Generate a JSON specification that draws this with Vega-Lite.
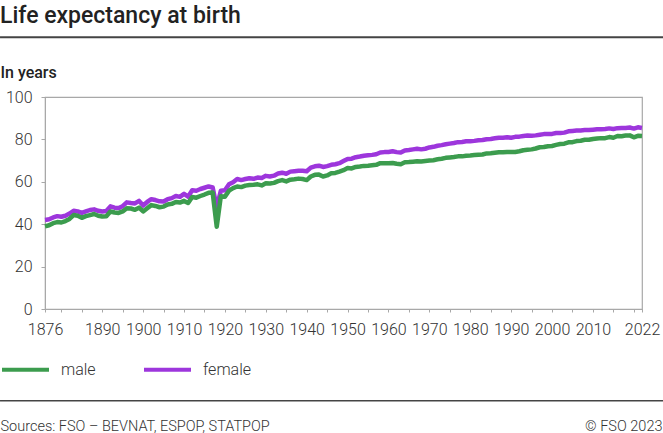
{
  "$schema": "https://vega.github.io/schema/vega-lite/v6.json",
  "width": 597,
  "height": 212,
  "autosize": {"type": "none"},
  "padding": {"left": 45, "top": 97, "right": 21, "bottom": 124},
  "background": "white",
  "config": {
    "font": "Roboto",
    "view": {"stroke": "#a8a8a8", "strokeWidth": 1.2},
    "axis": {
      "labelFont": "Roboto",
      "labelFontWeight": 300,
      "labelFontSize": 16,
      "labelColor": "#333333",
      "domainColor": "#a8a8a8",
      "tickColor": "#a8a8a8",
      "gridColor": "#a8a8a8",
      "titleFont": "Roboto"
    }
  },
  "title": {
    "text": "Life expectancy at birth",
    "anchor": "start",
    "frame": "group",
    "dx": -45,
    "dy": 4,
    "fontSize": 23,
    "fontWeight": 500,
    "color": "#222222",
    "offset": 12
  },
  "data": {
    "values": [
      {"year": 1876, "male": 39.0, "female": 42.0},
      {"year": 1877, "male": 39.5, "female": 42.3},
      {"year": 1878, "male": 40.5, "female": 43.2},
      {"year": 1879, "male": 41.0, "female": 43.8},
      {"year": 1880, "male": 40.8, "female": 43.5},
      {"year": 1881, "male": 41.5, "female": 44.0},
      {"year": 1882, "male": 42.5, "female": 45.0},
      {"year": 1883, "male": 44.3, "female": 46.3},
      {"year": 1884, "male": 44.0, "female": 46.0},
      {"year": 1885, "male": 43.0, "female": 45.3},
      {"year": 1886, "male": 43.8, "female": 46.0},
      {"year": 1887, "male": 44.3, "female": 46.7},
      {"year": 1888, "male": 44.8, "female": 47.0},
      {"year": 1889, "male": 44.0, "female": 46.3},
      {"year": 1890, "male": 43.6, "female": 46.0},
      {"year": 1891, "male": 43.8, "female": 46.2},
      {"year": 1892, "male": 46.0, "female": 48.4},
      {"year": 1893, "male": 45.5, "female": 47.8},
      {"year": 1894, "male": 45.3, "female": 47.6},
      {"year": 1895, "male": 46.0, "female": 48.5},
      {"year": 1896, "male": 47.5, "female": 50.3},
      {"year": 1897, "male": 47.4, "female": 50.0},
      {"year": 1898, "male": 46.8, "female": 49.8},
      {"year": 1899, "male": 47.8, "female": 51.0},
      {"year": 1900, "male": 46.0, "female": 48.8},
      {"year": 1901, "male": 47.5, "female": 50.5},
      {"year": 1902, "male": 49.0, "female": 51.8},
      {"year": 1903, "male": 48.6, "female": 51.4},
      {"year": 1904, "male": 48.0, "female": 50.8},
      {"year": 1905, "male": 48.3, "female": 50.7},
      {"year": 1906, "male": 49.3, "female": 51.8},
      {"year": 1907, "male": 49.6, "female": 52.3},
      {"year": 1908, "male": 50.5, "female": 53.3},
      {"year": 1909, "male": 50.2, "female": 52.9},
      {"year": 1910, "male": 51.0, "female": 54.3},
      {"year": 1911, "male": 50.0, "female": 53.0},
      {"year": 1912, "male": 52.8, "female": 56.0},
      {"year": 1913, "male": 52.5, "female": 55.8},
      {"year": 1914, "male": 53.3, "female": 56.6},
      {"year": 1915, "male": 54.0, "female": 57.2},
      {"year": 1916, "male": 54.8, "female": 57.8},
      {"year": 1917, "male": 55.0, "female": 57.3},
      {"year": 1918, "male": 38.8, "female": 48.0},
      {"year": 1919, "male": 53.2, "female": 55.8},
      {"year": 1920, "male": 53.0, "female": 56.0},
      {"year": 1921, "male": 55.8, "female": 58.8},
      {"year": 1922, "male": 57.0, "female": 59.8},
      {"year": 1923, "male": 57.8, "female": 61.3},
      {"year": 1924, "male": 57.5, "female": 60.8},
      {"year": 1925, "male": 58.2, "female": 61.3},
      {"year": 1926, "male": 58.5, "female": 61.7},
      {"year": 1927, "male": 58.6, "female": 61.4},
      {"year": 1928, "male": 58.8, "female": 62.0},
      {"year": 1929, "male": 58.3, "female": 61.8},
      {"year": 1930, "male": 59.3, "female": 62.8},
      {"year": 1931, "male": 59.2, "female": 62.5},
      {"year": 1932, "male": 59.5, "female": 62.9},
      {"year": 1933, "male": 60.3, "female": 63.9},
      {"year": 1934, "male": 60.8, "female": 64.3},
      {"year": 1935, "male": 60.2, "female": 63.8},
      {"year": 1936, "male": 61.0, "female": 64.8},
      {"year": 1937, "male": 61.2, "female": 65.0},
      {"year": 1938, "male": 61.5, "female": 65.2},
      {"year": 1939, "male": 61.3, "female": 65.2},
      {"year": 1940, "male": 60.8, "female": 65.0},
      {"year": 1941, "male": 62.5, "female": 66.7},
      {"year": 1942, "male": 63.3, "female": 67.3},
      {"year": 1943, "male": 63.4, "female": 67.6},
      {"year": 1944, "male": 62.5, "female": 67.0},
      {"year": 1945, "male": 63.0, "female": 67.4},
      {"year": 1946, "male": 64.0, "female": 68.0},
      {"year": 1947, "male": 64.2, "female": 68.3},
      {"year": 1948, "male": 64.8, "female": 68.8},
      {"year": 1949, "male": 65.5, "female": 69.8},
      {"year": 1950, "male": 66.5, "female": 70.8},
      {"year": 1951, "male": 66.3, "female": 70.9},
      {"year": 1952, "male": 67.0, "female": 71.6},
      {"year": 1953, "male": 67.2, "female": 71.9},
      {"year": 1954, "male": 67.5, "female": 72.3},
      {"year": 1955, "male": 67.6, "female": 72.5},
      {"year": 1956, "male": 67.8, "female": 72.7},
      {"year": 1957, "male": 68.0, "female": 73.0},
      {"year": 1958, "male": 68.8, "female": 73.8},
      {"year": 1959, "male": 68.8, "female": 74.0},
      {"year": 1960, "male": 68.8, "female": 74.1},
      {"year": 1961, "male": 68.9, "female": 74.4},
      {"year": 1962, "male": 68.5, "female": 74.0},
      {"year": 1963, "male": 68.3, "female": 73.8},
      {"year": 1964, "male": 69.2, "female": 74.8},
      {"year": 1965, "male": 69.3, "female": 75.0},
      {"year": 1966, "male": 69.5, "female": 75.3},
      {"year": 1967, "male": 69.7, "female": 75.6},
      {"year": 1968, "male": 69.6, "female": 75.3},
      {"year": 1969, "male": 69.8, "female": 75.6},
      {"year": 1970, "male": 70.0, "female": 76.2},
      {"year": 1971, "male": 70.2, "female": 76.5},
      {"year": 1972, "male": 70.6, "female": 77.0},
      {"year": 1973, "male": 70.9, "female": 77.3},
      {"year": 1974, "male": 71.3, "female": 77.7},
      {"year": 1975, "male": 71.5, "female": 78.0},
      {"year": 1976, "male": 71.7, "female": 78.3},
      {"year": 1977, "male": 72.0, "female": 78.7},
      {"year": 1978, "male": 72.0, "female": 78.8},
      {"year": 1979, "male": 72.3, "female": 79.1},
      {"year": 1980, "male": 72.4, "female": 79.1},
      {"year": 1981, "male": 72.6, "female": 79.3},
      {"year": 1982, "male": 72.8, "female": 79.6},
      {"year": 1983, "male": 72.9, "female": 79.7},
      {"year": 1984, "male": 73.4, "female": 80.1},
      {"year": 1985, "male": 73.5, "female": 80.2},
      {"year": 1986, "male": 73.7, "female": 80.5},
      {"year": 1987, "male": 73.9, "female": 80.8},
      {"year": 1988, "male": 73.9, "female": 80.8},
      {"year": 1989, "male": 74.0, "female": 81.0},
      {"year": 1990, "male": 74.0, "female": 80.8},
      {"year": 1991, "male": 74.1, "female": 81.2},
      {"year": 1992, "male": 74.4, "female": 81.3},
      {"year": 1993, "male": 74.9, "female": 81.6},
      {"year": 1994, "male": 75.1, "female": 81.8},
      {"year": 1995, "male": 75.3, "female": 81.7},
      {"year": 1996, "male": 75.7, "female": 81.9},
      {"year": 1997, "male": 76.3, "female": 82.2},
      {"year": 1998, "male": 76.4, "female": 82.5},
      {"year": 1999, "male": 76.8, "female": 82.5},
      {"year": 2000, "male": 76.9, "female": 82.6},
      {"year": 2001, "male": 77.4, "female": 83.0},
      {"year": 2002, "male": 77.8, "female": 83.0},
      {"year": 2003, "male": 78.0, "female": 83.2},
      {"year": 2004, "male": 78.6, "female": 83.8},
      {"year": 2005, "male": 78.7, "female": 84.0},
      {"year": 2006, "male": 79.2, "female": 84.2},
      {"year": 2007, "male": 79.4, "female": 84.2},
      {"year": 2008, "male": 79.8, "female": 84.4},
      {"year": 2009, "male": 79.8, "female": 84.4},
      {"year": 2010, "male": 80.2, "female": 84.6},
      {"year": 2011, "male": 80.4, "female": 84.8},
      {"year": 2012, "male": 80.6, "female": 84.8},
      {"year": 2013, "male": 80.6, "female": 84.9},
      {"year": 2014, "male": 81.1, "female": 85.2},
      {"year": 2015, "male": 80.8, "female": 84.9},
      {"year": 2016, "male": 81.6, "female": 85.3},
      {"year": 2017, "male": 81.5, "female": 85.4},
      {"year": 2018, "male": 81.8, "female": 85.4},
      {"year": 2019, "male": 81.9, "female": 85.6},
      {"year": 2020, "male": 81.0, "female": 85.1},
      {"year": 2021, "male": 81.7, "female": 85.7},
      {"year": 2022, "male": 81.6, "female": 85.4}
    ]
  },
  "transform": [{"fold": ["male", "female"], "as": ["sex", "value"]}],
  "resolve": {"axis": {"x": "independent"}},
  "layer": [
    {
      "data": {"values": [{}]},
      "mark": {"type": "rule", "color": "#444444", "strokeWidth": 2},
      "encoding": {
        "x": {"datum": 1865, "axis": null},
        "x2": {"datum": 2027.2},
        "y": {"datum": 128.2}
      }
    },
    {
      "data": {"values": [{}]},
      "mark": {"type": "rule", "color": "#444444", "strokeWidth": 1.5},
      "encoding": {
        "x": {"datum": 1865, "axis": null},
        "x2": {"datum": 2027.2},
        "y": {"datum": -43.3}
      }
    },
    {
      "transform": [{"filter": "datum.sex == 'female'"}],
      "mark": {"type": "line", "strokeWidth": 4.5, "strokeJoin": "round"},
      "encoding": {
        "x": {
          "field": "year",
          "type": "quantitative",
          "scale": {"domain": [1876, 2022], "nice": false, "zero": false},
          "axis": {
            "orient": "bottom",
            "values": [1876, 1880, 1885, 1890, 1895, 1900, 1905, 1910, 1915, 1920, 1925, 1930, 1935, 1940, 1945, 1950, 1955, 1960, 1965, 1970, 1975, 1980, 1985, 1990, 1995, 2000, 2005, 2010, 2015, 2020, 2022],
            "labelExpr": "(datum.value == 1876 || datum.value == 2022 || (datum.value % 10 == 0 && datum.value != 1880 && datum.value != 2020)) ? '' + datum.value : ''",
            "labelOverlap": false,
            "labelFlush": false,
            "labelPadding": 9,
            "tickSize": 3,
            "grid": false,
            "title": "Sources: FSO – BEVNAT, ESPOP, STATPOP",
            "titleFontSize": 14.5,
            "titleFontWeight": 300,
            "titleColor": "#333333",
            "titleAnchor": "start",
            "titleAlign": "left",
            "titleBaseline": "alphabetic",
            "titleX": -45,
            "titleY": 121
          }
        },
        "y": {
          "field": "value",
          "type": "quantitative",
          "scale": {"domain": [0, 100], "nice": false},
          "axis": {
            "orient": "left",
            "values": [0, 20, 40, 60, 80, 100],
            "tickSize": 4,
            "labelPadding": 9,
            "title": "In years",
            "titleFontSize": 16,
            "titleFontWeight": 500,
            "titleColor": "#222222",
            "titleAngle": 0,
            "titleAlign": "left",
            "titleBaseline": "alphabetic",
            "titleX": -45,
            "titleY": -20
          }
        },
        "color": {
          "field": "sex",
          "type": "nominal",
          "scale": {"domain": ["male", "female"], "range": ["#3c9c4e", "#9d36dc"]},
          "legend": {
            "orient": "none",
            "legendX": -45,
            "legendY": 247,
            "direction": "horizontal",
            "title": null,
            "symbolType": "stroke",
            "symbolSize": 2209,
            "symbolStrokeWidth": 4,
            "labelFontSize": 16,
            "labelFontWeight": 300,
            "labelColor": "#333333",
            "labelOffset": 10,
            "columnPadding": 40
          }
        }
      }
    },
    {
      "transform": [{"filter": "datum.sex == 'male'"}],
      "mark": {"type": "line", "strokeWidth": 4.5, "strokeJoin": "round"},
      "encoding": {
        "x": {
          "field": "year",
          "type": "quantitative",
          "axis": {
            "orient": "bottom",
            "labels": false,
            "ticks": false,
            "domain": false,
            "grid": false,
            "title": "© FSO 2023",
            "titleFontSize": 14.5,
            "titleFontWeight": 300,
            "titleColor": "#333333",
            "titleAlign": "right",
            "titleBaseline": "alphabetic",
            "titleX": 617,
            "titleY": 121
          }
        },
        "y": {"field": "value", "type": "quantitative"},
        "color": {"field": "sex", "type": "nominal"}
      }
    }
  ]
}
